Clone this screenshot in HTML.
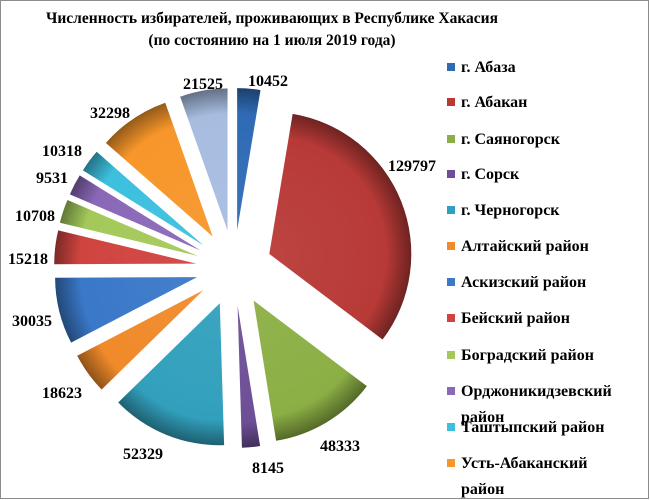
<!DOCTYPE html>
<html><head><meta charset="utf-8"><style>
body{margin:0;background:#fff}
#c{position:relative;width:650px;height:500px;overflow:hidden}
svg{position:absolute;left:0;top:0}
text{font-family:"Liberation Serif","Noto Serif CJK SC",serif;font-weight:bold;fill:#000}
</style></head><body>
<div id="c">
<svg id="s" width="650" height="500">
<defs id="defs"></defs>
<rect x="0.5" y="0.5" width="648" height="498" fill="#fff" stroke="#8c8c8c"/>
<text x="272" y="23" text-anchor="middle" font-size="15.5">Численность избирателей, проживающих в Республике Хакасия</text>
<text x="272" y="45" text-anchor="middle" font-size="15.5">(по состоянию на 1 июля 2019 года)</text>
<g id="slices"></g><g id="labels"></g><g id="legend"></g>
</svg></div>
<script>
const categories=["г. Абаза","г. Абакан","г. Саяногорск","г. Сорск","г. Черногорск","Алтайский район","Аскизский район","Бейский район","Боградский район","Орджоникидзевский район","Таштыпский район","Усть-Абаканский район","Ширинский район"];
const values=[10452,129797,48333,8145,52329,18623,30035,15218,10708,9531,10318,32298,21525];
const colors=["#2f6bb5","#b83a37","#8caf45","#6e4f97","#32a0bd","#f08a2a","#3a78c8","#d04440","#a4c95a","#8a68b8","#3cc0de","#f7962a","#a7bde0"];
const labelPos=[[268,86],[412,171],[340,451],[268,473],[143,459],[62,398],[32,326],[28,264],[35,221],[52,183],[62,156],[110,118],[203,89]];
const NS="http://www.w3.org/2000/svg";
const cx=234,cy=268,R=142,EXP=38;
const total=values.reduce((a,b)=>a+b,0);
const defs=document.getElementById('defs');
const gS=document.getElementById('slices'),gL=document.getElementById('labels'),gLeg=document.getElementById('legend');
function pt(x0,y0,r,a){const t=a*Math.PI/180;return [x0+r*Math.sin(t),y0-r*Math.cos(t)];}
function shade(hex,f){let n=parseInt(hex.slice(1),16);let r=n>>16,g=(n>>8)&255,b=n&255;
 const m=c=>Math.max(0,Math.min(255,Math.round(f>0?c+(255-c)*f:c*(1+f))));return `rgb(${m(r)},${m(g)},${m(b)})`;}
let cum=0;
values.forEach((v,i)=>{
 const a0=cum/total*360,a1=(cum+v)/total*360,mid=(a0+a1)/2;cum+=v;
 const [ox,oy]=pt(cx,cy,EXP,mid);
 const p0=pt(ox,oy,R,a0),p1=pt(ox,oy,R,a1);
 const gr=document.createElementNS(NS,'radialGradient');
 gr.setAttribute('id','g'+i);gr.setAttribute('gradientUnits','userSpaceOnUse');
 gr.setAttribute('cx',ox);gr.setAttribute('cy',oy);gr.setAttribute('r',R);
 gr.innerHTML=`<stop offset="0" stop-color="${shade(colors[i],0.05)}"/><stop offset="0.82" stop-color="${colors[i]}"/><stop offset="1" stop-color="${shade(colors[i],-0.4)}"/>`;
 defs.appendChild(gr);
 const p=document.createElementNS(NS,'path');
 p.setAttribute('d',`M${ox},${oy}L${p0[0]},${p0[1]}A${R},${R} 0 ${a1-a0>180?1:0} 1 ${p1[0]},${p1[1]}Z`);
 p.setAttribute('fill',`url(#g${i})`);
 
 
 gS.appendChild(p);
 const t=document.createElementNS(NS,'text');
 t.setAttribute('x',labelPos[i][0]);t.setAttribute('y',labelPos[i][1]);
 t.setAttribute('text-anchor','middle');t.setAttribute('font-size','16');
 t.textContent=v;
 
 
 gL.appendChild(t);
});
const legY=[67,102,139,174,210,246,282,318,355,391,427,463];
legY.forEach((y,i)=>{
 const r=document.createElementNS(NS,'rect');
 r.setAttribute('x',447);r.setAttribute('y',y-4);r.setAttribute('width',8);r.setAttribute('height',8);
 r.setAttribute('fill',colors[i]);
 
 
 gLeg.appendChild(r);
 const words=categories[i];
 const split=(i===9||i===11);
 const t=document.createElementNS(NS,'text');
 t.setAttribute('x',461);t.setAttribute('y',y+5);t.setAttribute('font-size','16');
 t.textContent=split?words.replace(' район',''):words;
 
 
 gLeg.appendChild(t);
 if(split){const t2=document.createElementNS(NS,'text');
  t2.setAttribute('x',461);t2.setAttribute('y',y+31);t2.setAttribute('font-size','16');
  t2.textContent='район';
  
  
  gLeg.appendChild(t2);}
});
</script>
</body></html>
